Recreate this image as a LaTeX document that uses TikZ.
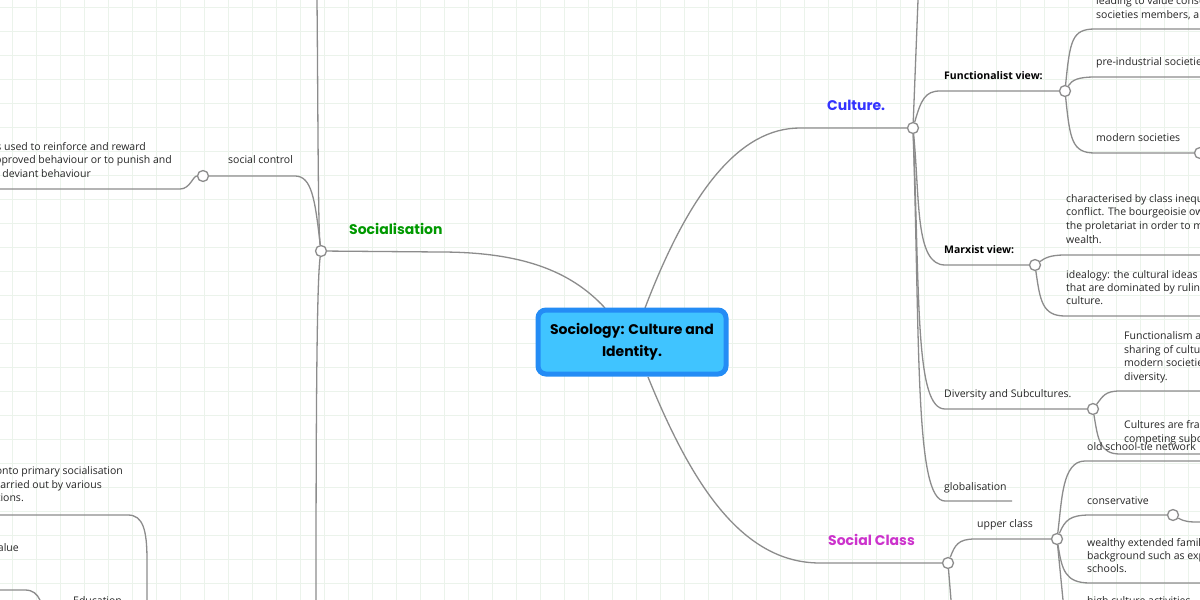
\documentclass[tikz,border=0pt]{standalone}
\usepackage{fontspec}
\setmainfont{Open Sans}
\newfontfamily\headfont{Poppins}
\definecolor{sclass}{RGB}{204,51,204}
\definecolor{rootfill}{RGB}{64,196,255}
\definecolor{rootedge}{RGB}{36,140,245}
\begin{document}
\begin{tikzpicture}[x=1pt,y=-1pt,
  ln/.style={draw=black!45,line width=1.3pt},
  dot/.style={circle,draw=black!45,line width=1.3pt,fill=white,inner sep=0pt,minimum size=11pt},
  txt/.style={inner sep=0pt,font=\fontsize{10.5}{13.5}\selectfont,text=black!85,align=left},
  lab/.style={txt,anchor=base west},
  rlab/.style={txt,anchor=base east},
  bold/.style={inner sep=0pt,anchor=base west,font=\fontsize{10.5}{13.5}\selectfont\bfseries}]
\useasboundingbox (0,0) rectangle (1200,600);
\fill[white] (0,0) rectangle (1200,600);
\foreach \i in {0,...,49} \draw[green!40!black!8,line width=1pt] (12+24*\i,0) -- (12+24*\i,600);
\foreach \i in {0,...,24} \draw[green!40!black!8,line width=1pt] (0,7+24*\i) -- (1200,7+24*\i);

% central
\coordinate (cu) at (645,308);
\coordinate (cs) at (605,308);
\coordinate (cd) at (648,377);
\node[dot] (culture) at (913,128) {};
\node[dot] (social) at (948,563) {};
\node[dot] (socl) at (321,251) {};
\draw[ln] (cu) .. controls (690,190) and (740,128) .. (800,128) -- (culture);
\draw[ln] (cd) .. controls (690,480) and (740,563) .. (820,563) -- (social);
\draw[ln] (cs) .. controls (570,270) and (520,252) .. (440,252) -- (socl);
\node[rounded corners=8pt,fill=rootfill,draw=rootedge,line width=5pt,minimum width=188pt,minimum height=64pt,align=center,font=\fontsize{14}{22}\selectfont\headfont\bfseries] (root) at (632,342) {Sociology: Culture and\\Identity.};

\node[inner sep=0pt,anchor=base west,text=blue!80,font=\fontsize{14}{16}\selectfont\headfont\bfseries] (lc) at (827,110) {Culture.};
\node[inner sep=0pt,anchor=base west,text=sclass,font=\fontsize{14}{16}\selectfont\headfont\bfseries] (ls) at (828,545) {Social Class};
\node[inner sep=0pt,anchor=base west,text=green!60!black,font=\fontsize{14}{16}\selectfont\headfont\bfseries] (lso) at (349,234) {Socialisation};

% culture trunk
\coordinate (ctop) at (918,0);
\draw[ln] (culture) -- (ctop);
\node[dot] (func) at (1065,91) {};
\node[dot] (marx) at (1035,265) {};
\node[dot] (div) at (1093,409) {};
\coordinate (glob) at (1012,501);
\draw[ln] (culture) .. controls (921,100) and (925,91) .. (940,91) -- (func);
\draw[ln] (culture) .. controls (920,200) and (915,265) .. (945,265) -- (marx);
\draw[ln] (culture) .. controls (920,300) and (915,409) .. (945,409) -- (div);
\draw[ln] (culture) .. controls (920,350) and (915,501) .. (945,501) -- (glob);
\node[bold] at (944,79) {Functionalist view:};
\node[bold] at (944,253) {Marxist view:};
\node[lab] at (944,397) {Diversity and Subcultures.};
\node[lab] at (944,490) {globalisation};

\coordinate (f1) at (1200,29);
\coordinate (f2) at (1200,77);
\node[dot] (f3) at (1200,153) {};
\draw[ln] (func) .. controls (1070,40) and (1072,29) .. (1095,29) -- (f1);
\draw[ln] (func) .. controls (1072,80) and (1078,77) .. (1095,77) -- (f2);
\draw[ln] (func) .. controls (1070,140) and (1072,153) .. (1095,153) -- (f3);
\node[lab] at (1096,4) {leading to value consensus among};
\node[lab] at (1096,18) {societies members, allowing};
\node[lab] at (1096,65) {pre-industrial societies};
\node[lab] at (1096,141) {modern societies};

\coordinate (m1) at (1200,255);
\coordinate (m2) at (1200,316);
\draw[ln] (marx) .. controls (1045,258) and (1050,255) .. (1065,255) -- (m1);
\draw[ln] (marx) .. controls (1040,300) and (1042,316) .. (1065,316) -- (m2);
\node[lab] at (1066,202) {characterised by class inequality and};
\node[lab] at (1066,215) {conflict. The bourgeoisie own and exploit};
\node[lab] at (1066,229) {the proletariat in order to make more};
\node[lab] at (1066,243) {wealth.};
\node[lab] at (1066,278) {idealogy: the cultural ideas and values};
\node[lab] at (1066,291) {that are dominated by ruling class};
\node[lab] at (1066,304) {culture.};

\coordinate (d1) at (1200,391);
\coordinate (d2) at (1200,454);
\draw[ln] (div) .. controls (1103,396) and (1105,391) .. (1120,391) -- (d1);
\draw[ln] (div) .. controls (1098,440) and (1100,454) .. (1120,454) -- (d2);
\node[lab] at (1124,339) {Functionalism argues that the};
\node[lab] at (1124,353) {sharing of culture is difficult in};
\node[lab] at (1124,366) {modern societies due to cultural};
\node[lab] at (1124,380) {diversity.};
\node[lab] at (1124,428) {Cultures are fragmented into};
\node[lab] at (1124,442) {competing subcultures};

% social class
\node[dot] (upper) at (1057,539) {};
\coordinate (sdown) at (951,600);
\draw[ln] (social) -- (sdown);
\draw[ln] (social) .. controls (955,545) and (958,539) .. (975,539) -- (upper);
\node[lab] at (977,527) {upper class};
\coordinate (u1) at (1200,461);
\node[dot] (cons) at (1173,515) {};
\coordinate (u2) at (1200,522);
\coordinate (u3) at (1200,583);
\coordinate (u4) at (1063,600);
\draw[ln] (upper) .. controls (1062,500) and (1062,461) .. (1085,461) -- (u1);
\draw[ln] (upper) .. controls (1065,520) and (1070,515) .. (1090,515) -- (cons);
\draw[ln] (cons) .. controls (1185,522) and (1190,522) .. (u2);
\draw[ln] (upper) .. controls (1062,570) and (1065,583) .. (1090,583) -- (u3);
\draw[ln] (upper) -- (u4);
\node[lab] at (1087,450) {old school-tie network};
\node[lab] at (1087,504) {conservative};
\node[lab] at (1087,546) {wealthy extended families with a};
\node[lab] at (1087,559) {background such as expensive public};
\node[lab] at (1087,572) {schools.};
\node[lab] at (1087,604) {high culture activities};

% socialisation
\coordinate (stop) at (317,0);
\coordinate (sbot) at (316,600);
\draw[ln] (socl) .. controls (318,230) and (318,100) .. (stop);
\draw[ln] (socl) .. controls (317,280) and (316,400) .. (sbot);
\node[dot] (sc) at (203,176) {};
\draw[ln] (socl) .. controls (315,200) and (312,176) .. (295,176) -- (sc);
\node[lab] at (228,163) {social control};
\coordinate (sc1) at (0,189);
\draw[ln] (sc) .. controls (193,176) and (190,189) .. (180,189) -- (sc1);
\node[rlab] at (146,150) {s used to reinforce and reward};
\node[rlab] at (172,163) {approved behaviour or to punish and};
\node[rlab] at (91,177) {e deviant behaviour};

\coordinate (b1) at (0,515);
\coordinate (b1e) at (147,600);
\draw[ln] (b1) -- (128,515) .. controls (143,515) and (147,530) .. (147,560) -- (b1e);
\node[rlab] at (123,474) {onto primary socialisation};
\node[rlab] at (102,488) {carried out by various};
\node[rlab] at (24,501) {tions.};
\node[rlab] at (19,551) {alue};
\coordinate (b2) at (0,590);
\coordinate (b2e) at (40,600);
\draw[ln] (b2) -- (25,590) .. controls (33,590) and (37,594) .. (b2e);
\node[lab] at (73,604) {Education};
\end{tikzpicture}
\end{document}
